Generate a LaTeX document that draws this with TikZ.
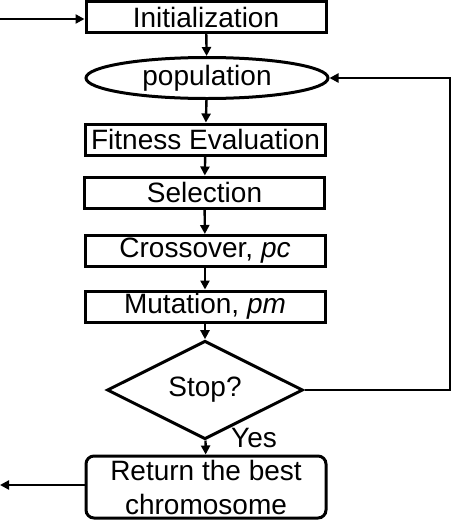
\documentclass[tikz,border=0pt]{standalone}
\usepackage{fontspec}
\setmainfont{Liberation Sans}
\usepackage{tikz}
\usetikzlibrary{shapes.geometric,arrows.meta}

\tikzset{
  stepbox/.style={draw, line width=1.5pt, minimum width=120pt, minimum height=15.5pt, inner sep=0pt},
  popnode/.style={draw, ellipse, line width=1.5pt, minimum width=121pt, minimum height=20.5pt, inner sep=0pt},
  stopnode/.style={draw, diamond, line width=1.5pt, minimum width=98pt, minimum height=43.5pt, inner sep=0pt},
  endbox/.style={draw, rounded corners=4pt, line width=1.5pt, minimum width=120pt, minimum height=31pt, inner sep=0pt, align=center},
  flow/.style={line width=1.2pt, -{Triangle[length=4.5pt,width=4.5pt]}}
}

\begin{document}
\begin{tikzpicture}[x=0.5pt, y=-0.5pt, font=\fontsize{14}{17}\selectfont]
\useasboundingbox (0,0) rectangle (452,520);
% process boxes
\node [stepbox] (init) at (206,17) {Initialization};
\node [popnode] (pop) at (207,78) {population};
\node [stepbox] (fit) at (205.5,139.5) {Fitness Evaluation};
\node [stepbox] (sel) at (204.5,192.5) {Selection};
\node [stepbox] (cro) at (205,251) {Crossover, \textit{pc}};
\node [stepbox] (mut) at (205,306.5) {Mutation, \textit{pm}};
\node [stopnode] (stop) at (205,390) {Stop?};
\node [endbox] (ret) at (206,487) {Return the best\\chromosome};
\node (yes) at (254,438) {Yes};
\coordinate (start) at (0,19);
\coordinate (finish) at (0,485);
\coordinate (loop) at (450,390);
% connectors
\draw [flow] (start) -- (start -| init.west);
\draw [flow] (init) -- (pop);
\draw [flow] (pop) -- (fit);
\draw [flow] (fit) -- (sel);
\draw [flow] (sel) -- (cro);
\draw [flow] (cro) -- (mut);
\draw [flow] (mut) -- (stop);
\draw [flow] (stop) -- (ret);
\draw [flow] (stop.east) -- (loop) |- (pop.east);
\draw [flow] (ret.west |- finish) -- (finish);
\end{tikzpicture}
\end{document}
